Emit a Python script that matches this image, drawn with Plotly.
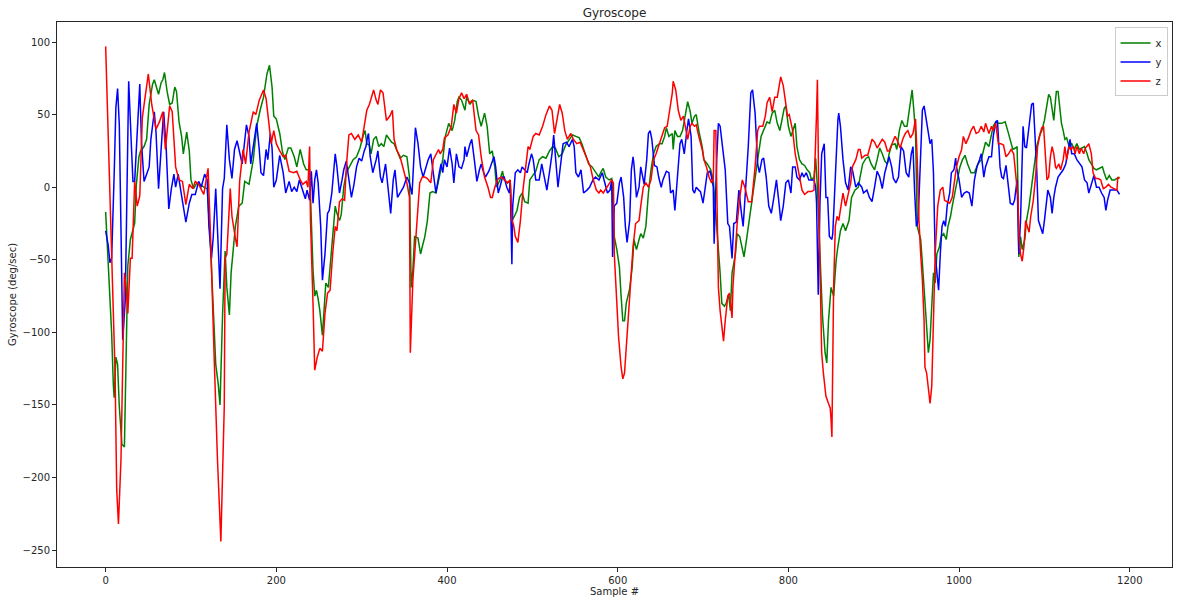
import plotly.graph_objects as go

# gyroscope x axis (sample #, deg/sec)
gx_t = [0, 3, 5, 7, 9, 10, 12, 14, 16, 19, 22, 24, 26, 29, 31, 34, 36, 39, 41, 45,
        48, 51, 55, 57, 60, 62, 65, 67, 69, 72, 75, 78, 81, 83, 86, 89, 91, 95, 98, 100,
        103, 107, 111, 115, 119, 122, 125, 129, 132, 134, 137, 139, 140, 142, 145, 147, 149, 152, 156, 160,
        163, 168,
        173, 177, 181, 185, 189, 192, 195, 197, 200, 204, 207, 210, 214, 217, 221, 224, 228, 232, 235, 239,
        241, 243, 245, 247, 249, 251, 254, 256, 258, 261, 265, 269, 271, 274, 276, 279, 282, 286, 290, 294,
        298, 302, 304, 306, 309, 311, 314, 317, 320, 323, 326, 329, 332, 335, 338, 341, 345, 349, 353, 356,
        358, 360, 362, 366, 369, 371, 374, 377, 380, 383, 387, 391,
        395, 398, 402, 406, 409, 412, 414, 417, 421, 423, 427, 430, 434, 437, 440, 444, 447, 450, 453, 456,
        458, 462, 465, 467, 471, 474, 476, 479, 482, 485, 488, 491, 495, 497, 501, 504, 508, 512, 516, 520,
        524, 527, 531, 535, 539, 543, 547, 551, 555, 558, 562, 566, 570, 574, 578, 580, 583, 586, 590, 593,
        596, 599, 602, 604, 606, 608, 610,
        614, 617, 619, 622, 625, 627, 630, 633, 636, 639, 642, 645, 649, 652, 655, 657, 660, 664, 665, 667,
        670, 673, 676, 679, 682, 685, 687, 690, 692, 695, 699, 701, 705, 709, 712, 714, 717, 720, 722, 725,
        727, 730, 732, 734, 738, 740, 743, 746, 748, 751, 754, 757, 760, 764, 768, 771, 775, 778, 781, 784,
        787, 790, 793, 795, 797, 800, 803, 805, 808, 810, 813, 816, 819, 822, 825, 827, 830, 832, 834, 837,
        840, 843, 845,
        847, 850, 853, 856, 858, 861, 864, 867, 871, 874, 878, 882, 884, 887, 891, 894, 897, 901, 904, 907,
        910, 913, 916, 918, 921, 925, 927, 930, 933, 936, 939, 942, 945, 947, 949, 951, 955, 957, 960, 962,
        964, 966, 968, 970, 972, 974, 977, 979, 982, 985, 987, 990, 992, 996, 999, 1001, 1004, 1007, 1010, 1014,
        1018, 1022, 1026, 1029, 1031, 1035, 1038, 1040, 1043, 1046,
        1050, 1054, 1057, 1060, 1063, 1066, 1068, 1069, 1070, 1072, 1074, 1077, 1079, 1082, 1085, 1088, 1091, 1094, 1097, 1100,
        1103, 1105, 1107, 1109, 1111, 1113, 1114, 1116, 1118, 1120, 1122, 1124, 1126, 1129, 1132, 1135, 1138, 1141, 1144, 1147,
        1150, 1152, 1155, 1158, 1161, 1165, 1168, 1170, 1173, 1176, 1179, 1182, 1185, 1188]
gx = [-17, -54, -76, -100, -136, -145, -117, -122, -151, -177, -179, -127, -54, -36, -32, -25, 2, 21, 25, 28,
      33, 57, 71, 74, 68, 64, 72, 74, 79, 66, 57, 58, 69, 66, 45, 35, 23, 38, 25, 5,
      -1, 3, 2, 0, -1, -30, -69, -122, -136, -150, -88, -47, -44, -69, -88, -59, -44, -27, -13, -11,
      4, 2,
      19, 42, 53, 62, 78, 84, 69, 49, 47, 37, 25, 19, 27, 27, 21, 14, 26, 16, 12, 12,
      -23, -57, -75, -71, -77, -85, -102, -80, -66, -69, -41, -13, -18, -23, -19, 0, 10, 14, 19, 21,
      27, 36, 39, 30, 29, 23, 33, 35, 28, 30, 28, 36, 33, 31, 30, 26, 20, 22, 21, 7,
      -69, -57, -34, -35, -46, -41, -34, -23, -4, -3, -4, 7,
      19, 35, 44, 39, 46, 59, 62, 60, 53, 62, 57, 60, 59, 49, 42, 51, 42, 23, 25, 14,
      0, 5, 11, 5, 3, 5, -23, -20, -16, -7, -4, -10, -11, 5, 8, 11, 19, 21, 20, 25,
      28, 27, 21, 23, 29, 33, 36, 35, 34, 30, 23, 16, 14, 10, 7, 10, 13, 7, 5, 6,
      -34, -43, -55, -75, -92, -92, -80,
      -70, -55, -36, -43, -36, -32, -35, -27, -4, 12, 23, 28, 30, 30, 35, 41, 35, 37, 26, 39,
      35, 35, 39, 49, 59, 52, 44, 49, 50, 39, 28, 19, 16, 12, 5, -11, -34, -59, -80, -82,
      -80, -74, -85, -59, -46, -32, -34, -43, -48, -36, -23, -9, 5, 19, 35, 39, 45, 44, 51, 53,
      44, 39, 49, 54, 56, 42, 35, 39, 44, 28, 19, 16, 15, 12, 10, 5, 7, 20, 0, -46,
      -89, -114, -121,
      -92, -69, -75, -50, -41, -30, -25, -30, -23, -7, -2, 0, 7, 16, 20, 21, 16, 12, 19, 27,
      23, 18, 16, 23, 29, 30, 26, 39, 46, 42, 42, 53, 67, 53, 37, -27, -36, -52, -80, -101,
      -114, -105, -82, -59, -66, -46, -41, -34, -32, -36, -27, -20, -13, 0, 7, 14, 19, 22, 16, 10,
      10, 16, 19, 26, 31, 28, 37, 42, 45, 44,
      44, 45, 39, 33, 26, 27, 28, 0, -48, -34, -43, -36, -23, -13, 0, 14, 28, 35, 39, 46,
      58, 64, 62, 53, 46, 60, 66, 66, 56, 44, 39, 33, 34, 28, 30, 26, 30, 26, 27, 28,
      23, 19, 16, 13, 12, 13, 14, 10, 5, 8, 5, 5, 6, 7]

# gyroscope y axis
gy_t = [0, 3, 5, 7, 10, 12, 14, 16, 18, 20, 23, 25, 27, 30, 32, 34, 37, 40, 42, 45,
        48, 51, 53, 57, 59, 62, 66, 68, 71, 74, 77, 80, 82, 85, 89, 94, 98, 101, 105, 109,
        112, 116, 119, 121, 124, 126, 129, 131, 134, 137, 139, 142, 145, 148, 151, 154, 157, 160, 165, 168,
        170, 174, 177, 180, 182, 185, 188, 190, 193, 195, 197, 200, 204, 208, 211, 215, 218, 221, 224, 227,
        231, 234, 236, 239, 241, 243, 245, 247, 249, 252, 254, 257, 260, 262, 265, 269, 271, 274, 277, 279,
        282, 285, 288, 291, 294, 297, 300, 303, 305, 307, 308, 310, 313, 317, 319, 322, 324, 328, 331, 334,
        337, 339, 342, 345, 349, 353, 356, 359, 361, 363, 366, 369, 372, 375, 378, 381, 384, 387, 391,
        393, 395, 397, 400, 403, 406, 408, 411, 414, 417, 420, 421, 423, 427, 429, 432, 435, 438, 440, 443,
        445, 449, 452, 455, 457, 460, 462, 465, 467, 470, 473, 474, 476, 477, 480, 483, 486, 488, 491, 494,
        496, 499, 501, 504, 508, 511, 514, 517, 520, 523, 525, 527, 530, 532, 534, 536, 540, 543, 547, 549,
        551, 554, 557, 560, 564, 567, 571, 574, 578, 582, 584, 588, 591, 593, 594, 596, 599, 602, 604, 607,
        609, 611,
        614, 616, 618, 619, 622, 625, 627, 629, 631, 634, 636, 638, 640, 643, 646, 648, 651, 653, 657, 660,
        662, 665, 667, 670, 673, 675, 678, 681, 683, 686, 688, 690, 692, 695, 697, 700, 703, 705, 708, 710,
        712, 713, 716, 718, 720, 723, 726, 729, 731, 734, 736, 739, 742, 745, 747, 750, 753, 756, 758, 761,
        764, 766, 769, 771, 774, 777, 780, 783, 786, 789, 791, 794, 797, 800, 803, 805, 808, 810, 813, 816,
        818, 821, 824, 827, 830, 832, 833, 835, 837, 839, 842,
        844, 846, 848, 851, 852, 855, 858, 859, 861, 864, 867, 870, 873, 875, 879, 882, 886, 888, 892, 895,
        898, 901, 904, 907, 910, 913, 916, 918, 921, 923, 926, 929, 932, 935, 938, 941, 944, 946, 948, 950,
        952, 955, 957, 959, 961, 964, 966, 968, 970, 972, 974, 976, 978, 980, 982, 984, 986, 989, 991, 994,
        996, 997, 1000, 1003, 1006, 1009, 1012, 1015, 1018, 1021, 1024, 1026, 1029, 1031, 1035, 1038, 1040, 1043, 1045,
        1047, 1048, 1050, 1052, 1055, 1057, 1060, 1063, 1065, 1068, 1069, 1070, 1072, 1074, 1075, 1077, 1079, 1081, 1083, 1085,
        1087, 1089, 1091, 1093, 1095, 1098, 1100, 1102, 1104, 1107, 1109, 1111, 1113, 1116, 1120, 1122, 1125, 1128, 1130, 1132,
        1135, 1138, 1141, 1144, 1147, 1150, 1152, 1155, 1158, 1161, 1164, 1167, 1170, 1172, 1174, 1177, 1180, 1182, 1185, 1188]
gy = [-30, -40, -52, -49, 9, 55, 68, 43, -30, -105, -78, -6, 73, 31, 4, 4, 43, 71, 31, 4,
      9, 14, 33, 52, 38, -1, 35, 52, 26, -15, -1, 9, 0, 9, -6, -24, -11, -5, -5, 4,
      0, 9, 5, -27, -49, -35, -1, -30, -70, -1, 6, 43, 19, 6, 26, 32, 23, 16, 43, 35,
      16, 33, 44, 26, 10, 8, 26, 19, 37, 27, 0, 5, 22, 10, -4, 4, -3, 0, -3, 5,
      -2, -8, -2, -9, 11, -11, 5, 12, 3, -27, -64, -46, -18, -16, -4, 23, 14, -4, 5, 12,
      18, 4, -7, 2, 14, 20, 18, 25, 28, 35, 37, 21, 10, 19, 25, 7, 3, 16, -3, -18,
      5, 12, -7, -4, 0, 7, 3, -5, 23, 41, 30, 14, 7, 14, 19, 23, 10, -4, 10,
      16, 10, 19, 14, 27, 16, 3, 23, 14, 13, 19, 28, 21, 30, 33, 19, 4, 12, 16, 10,
      7, 11, 16, 21, 14, -4, 0, 7, 7, 0, -4, 5, -53, -13, 10, 12, 10, 14, 12, 10,
      16, 23, 19, 5, 5, 16, 7, -2, 10, 23, 36, 23, 0, 10, 21, 30, 31, 28, 33, 28,
      10, 7, 12, -4, -2, 0, 5, 7, 5, 10, 5, -4, -2, 5, -48, -13, -11, 3, 7, -7,
      -27, -38,
      -23, 12, 21, 16, -7, 0, 14, 7, 2, 19, 37, 39, 33, 15, 14, 7, 0, 5, 11, 10,
      -4, -2, -16, 7, 30, 33, 23, 39, 47, 35, -2, -4, 0, -2, -3, -11, 0, 10, 11, 7,
      0, -39, 19, 44, 42, 28, 12, -25, -27, -49, -25, -24, -2, -18, -27, 0, 28, 65, 67, 51,
      16, 10, 19, 20, 7, -13, -18, -7, 5, -11, -23, -13, 3, 5, -4, 14, 14, 7, 5, 10,
      7, 10, 5, 5, 5, 0, -11, -74, -11, 23, 30,
      -7, -7, -34, -36, -32, 12, 46, 51, 42, 19, 3, -2, 14, 12, 0, 3, 0, -4, -2, -7,
      -10, 0, 11, 7, -1, 10, 16, 21, 14, 6, 3, 7, 28, 25, 10, 7, 23, 28, -4, -27,
      -23, 23, 53, 56, 49, 37, 30, 33, 10, -46, -59, -71, -46, -27, -23, -27, -13, -4, 10, 12,
      20, 14, 5, -7, -4, -3, -4, -13, 5, 14, 19, 23, 7, 14, 21, 21, 35, 45, 46,
      23, 14, 7, 6, 15, 5, -11, -12, -9, 5, -34, -46, -23, 35, 42, 28, 27, 37, 49, 57,
      58, 39, 12, -23, -27, -32, -23, -13, -2, -7, -18, -7, 0, 7, 10, 12, 16, 28, 33, 23,
      23, 19, 16, 14, 5, 3, -4, 3, 8, 0, 0, -4, -7, -16, -9, -2, -2, -2, -2, -5]

# gyroscope z axis
gz_t = [0, 4, 8, 11, 13, 15, 18, 20, 22, 24, 26, 29, 31, 34, 37, 40, 43, 46, 50, 54,
        59, 63, 67, 70, 75, 78, 82, 86, 90, 94, 98, 102, 105, 109, 115, 120, 123, 127, 131, 135,
        139, 140, 142, 146, 148, 152, 154, 157, 161, 164, 168,
        173, 176, 180, 185, 188, 191, 194, 197, 200, 204, 208, 211, 215, 220, 224, 228, 231, 235, 237, 239,
        240, 243, 245, 248, 251, 254, 257, 260, 263, 266, 269, 271, 274, 277, 280, 282, 285, 288, 292, 296,
        300, 303, 306, 309, 314, 317, 319, 322, 325, 329, 333, 336, 338, 341, 345, 349, 353, 356, 357, 360,
        362, 365, 368, 371, 374, 377, 381, 384, 387, 390,
        392, 395, 397, 401, 405, 408, 411, 414, 417, 420, 423, 426, 430, 434, 437, 440, 444, 448, 451, 453,
        456, 460, 464, 467, 471, 474, 476, 478, 480, 483, 486, 489, 492, 495, 497, 501, 504, 508, 512, 516,
        520, 523, 526, 529, 532, 535, 538, 541, 545, 548, 552, 556, 560, 564, 568, 571, 575, 578, 580, 583,
        586, 590, 593, 595, 596, 599, 601, 604, 606, 608, 610, 613,
        616, 618, 621, 625, 627, 630, 633, 636, 639, 642, 645, 648, 651, 655, 658, 661, 664, 665, 668, 671,
        674, 677, 679, 682, 685, 687, 690, 692, 695, 699, 701, 704, 707, 710, 712, 713, 715, 717, 718, 720,
        722, 724, 726, 729, 731, 733, 734, 735, 738, 740, 743, 746, 749, 753, 757, 761, 764, 766, 770, 773,
        775, 778, 781, 784, 787, 789, 791, 794, 796, 799, 801, 805, 808, 812, 816, 819, 823, 827, 830, 833,
        834, 836, 839, 841, 844, 847,
        849, 850, 851, 852, 853, 855, 857, 859, 861, 864, 867, 870, 873, 875, 879, 882, 884, 886, 890, 893,
        896, 898, 901, 904, 907, 910, 913, 916, 918, 921, 925, 927, 931, 934, 937, 940, 943, 946, 949, 951,
        953, 955, 957, 959, 960, 962, 964, 966, 968, 970, 972, 975, 978, 981, 983, 986, 989, 992, 995, 997,
        1000, 1003, 1005, 1008, 1011, 1014, 1017, 1020, 1023, 1026, 1029, 1031, 1035, 1038, 1040, 1043, 1046,
        1049, 1052, 1055, 1058, 1061, 1064, 1066, 1069, 1070, 1072, 1074, 1076, 1078, 1080, 1082, 1084, 1087, 1090, 1092, 1095,
        1097, 1099, 1101, 1103, 1105, 1107, 1109, 1111, 1113, 1114, 1117, 1119, 1122, 1124, 1126, 1129, 1131, 1134, 1136, 1138,
        1141, 1143, 1146, 1148, 1151, 1152, 1155, 1157, 1160, 1163, 1166, 1169, 1172, 1175, 1178, 1182, 1185, 1186, 1188]
gz = [97, 19, -54, -127, -209, -232, -187, -114, -59, -69, -87, -49, -49, 4, -13, -6, 48, 61, 78, 57,
      40, 45, 52, 26, 56, 52, 14, 5, 4, -12, 2, -1, 4, 2, -5, 13, -35, -114, -187, -244,
      -151, -49, -46, -1, -20, -35, -41, 4, 26, 16, 38,
      52, 50, 60, 67, 61, 46, 30, 39, 30, 25, 21, 22, 11, 10, 11, 5, 2, 4, 0, 28,
      -23, -80, -126, -117, -111, -113, -87, -73, -71, -46, -27, -30, -10, -8, -9, 14, 36, 37, 33, 36,
      31, 42, 53, 57, 67, 60, 57, 67, 65, 46, 49, 53, 33, 26, 21, 12, 3, -7, -114, -64,
      -46, -23, 3, 7, 7, 6, 3, 19, 23, 26,
      23, 26, 34, 36, 42, 57, 51, 61, 65, 61, 64, 58, 60, 39, 36, 21, 7, 0, -7, -7,
      0, 6, 7, 5, 3, 5, -23, -26, -34, -38, -23, -2, 14, 28, 26, 35, 37, 36, 42, 50,
      56, 53, 37, 46, 57, 51, 39, 33, 37, 33, 30, 31, 25, 19, 14, 6, -2, -4, -2, -4,
      -1, 2, 5, 3, -46, -80, -103, -124, -132, -128, -110, -80,
      -59, -41, -25, -23, -13, 0, 3, 0, 5, 19, 23, 28, 33, 41, 42, 53, 65, 73, 67, 53,
      46, 49, 42, 33, 42, 44, 42, 43, 35, 26, 19, 14, 7, 3, 5, 39, 39, -23, -69, -85,
      -96, -106, -92, -75, -73, -82, -90, -69, -43, -25, -7, 5, 0, -10, -10, 14, 39, 42, 42, 49,
      58, 62, 52, 62, 62, 69, 76, 70, 60, 49, 50, 39, 23, 10, -2, -5, -3, -3, -2, 51,
      74, -23, -114, -128, -144, -149,
      -152, -160, -172, -120, -69, -27, -20, -23, -16, -4, -13, -4, 3, 14, 19, 26, 26, 20, 22, 22,
      28, 33, 31, 27, 30, 33, 31, 25, 25, 29, 35, 33, 27, 33, 37, 39, 34, 37, 47, 19,
      -23, -46, -64, -92, -124, -128, -137, -149, -137, -92, -46, -13, -2, 0, -9, -10, -11, -7, 5, 14,
      21, 26, 35, 30, 34, 39, 42, 37, 38, 42, 38, 44, 37, 42, 39, 44, 30,
      30, 29, 21, 23, 26, 23, 12, -7, -32, -46, -51, -41, -23, -27, -31, -20, -9, 10, 28, 37,
      41, 42, 23, 5, 7, 21, 28, 23, 14, 13, 16, 12, 19, 28, 19, 28, 26, 28, 23, 28,
      23, 27, 23, 27, 29, 30, 23, 10, 6, 6, 5, -1, 0, 2, 0, -1, -2, 7, 6]

series_names = ["x", "y", "z"]
series_colors = ["green", "blue", "red"]
x_ticks = [0, 200, 400, 600, 800, 1000, 1200]
y_ticks = [-250, -200, -150, -100, -50, 0, 50, 100]

FONT = "DejaVu Sans"


def style_axis(ticks):
    return dict(
        tickvals=ticks,
        showgrid=False,
        zeroline=False,
        showline=True,
        mirror=True,
        linecolor="#262626",
        linewidth=1,
        ticks="outside",
        ticklen=4,
        tickcolor="#262626",
        tickfont=dict(family=FONT, size=10, color="#262626"),
        automargin=False,
    )


fig = go.Figure()
for name, color, t, v in zip(series_names, series_colors, [gx_t, gy_t, gz_t], [gx, gy, gz]):
    fig.add_trace(go.Scatter(x=t, y=v, name=name, mode="lines",
                             line=dict(color=color, width=1.5)))

fig.update_layout(
    width=1178,
    height=604,
    font=dict(family=FONT, size=10, color="#262626"),
    paper_bgcolor="white",
    plot_bgcolor="white",
    margin=dict(l=57, r=6, t=22, b=37, autoexpand=False),
    title=dict(text="Gyroscope", x=0.5, xref="paper", xanchor="center",
               y=1 - 13 / 604, yref="container", yanchor="middle",
               font=dict(family=FONT, size=12, color="#262626")),
    legend=dict(x=0.996, y=0.99, xanchor="right", yanchor="top",
                bgcolor="rgba(255,255,255,0.8)", bordercolor="#cccccc", borderwidth=1,
                font=dict(family=FONT, size=10), itemwidth=30, tracegroupgap=0),
    showlegend=True,
)
fig.update_xaxes(range=[-57, 1249.5], title=dict(text="Sample #", standoff=2,
                                                 font=dict(family=FONT, size=10)),
                 **style_axis(x_ticks))
fig.update_yaxes(range=[-261.6, 113.8], title=dict(text="Gyroscope (deg/sec)", standoff=4,
                                                   font=dict(family=FONT, size=10)),
                 **style_axis(y_ticks))

# the page body has a default 8px margin; drop it so the figure sits at the origin
fig.write_html("out.html", config={"displayModeBar": False},
               post_script="document.body.style.margin = '0';")
